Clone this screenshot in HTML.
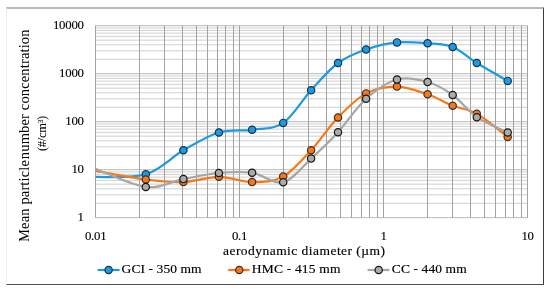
<!DOCTYPE html>
<html><head><meta charset="utf-8"><style>
html,body{margin:0;padding:0;background:#fff;}
body{width:550px;height:291px;position:relative;overflow:hidden;font-family:"Liberation Serif", serif;color:#000;}
.frame{position:absolute;left:6px;top:7px;width:538px;height:278px;box-sizing:border-box;border-top:2px solid #bababa;border-left:1px solid #ececec;border-right:1px solid #3c3c3c;border-bottom:1px solid #505050;}
.t{position:absolute;white-space:nowrap;line-height:1;-webkit-text-stroke:0.15px #000;}
.yl{-webkit-text-stroke:0.12px #000;font-size:12.8px;letter-spacing:-0.25px;text-align:right;width:60px;}
.xl{-webkit-text-stroke:0.12px #000;font-size:12.8px;letter-spacing:-0.25px;text-align:center;width:60px;}
.lg{font-size:13.5px;}
.ytitle{position:absolute;white-space:nowrap;line-height:1;-webkit-text-stroke:0.02px #000;transform-origin:0 0;transform:rotate(-90deg);}
</style></head><body>
<div class="frame"></div>
<svg width="550" height="291" viewBox="0 0 550 291" style="position:absolute;left:0;top:0">
<defs><clipPath id="pa"><rect x="95.60" y="19.70" width="432.00" height="204.00"/></clipPath></defs>
<g stroke="#cfcfcf" stroke-width="1"><line x1="95.60" y1="203.25" x2="527.60" y2="203.25"/><line x1="95.60" y1="194.80" x2="527.60" y2="194.80"/><line x1="95.60" y1="188.80" x2="527.60" y2="188.80"/><line x1="95.60" y1="184.15" x2="527.60" y2="184.15"/><line x1="95.60" y1="180.35" x2="527.60" y2="180.35"/><line x1="95.60" y1="177.14" x2="527.60" y2="177.14"/><line x1="95.60" y1="174.35" x2="527.60" y2="174.35"/><line x1="95.60" y1="171.90" x2="527.60" y2="171.90"/><line x1="95.60" y1="155.25" x2="527.60" y2="155.25"/><line x1="95.60" y1="146.80" x2="527.60" y2="146.80"/><line x1="95.60" y1="140.80" x2="527.60" y2="140.80"/><line x1="95.60" y1="136.15" x2="527.60" y2="136.15"/><line x1="95.60" y1="132.35" x2="527.60" y2="132.35"/><line x1="95.60" y1="129.14" x2="527.60" y2="129.14"/><line x1="95.60" y1="126.35" x2="527.60" y2="126.35"/><line x1="95.60" y1="123.90" x2="527.60" y2="123.90"/><line x1="95.60" y1="107.25" x2="527.60" y2="107.25"/><line x1="95.60" y1="98.80" x2="527.60" y2="98.80"/><line x1="95.60" y1="92.80" x2="527.60" y2="92.80"/><line x1="95.60" y1="88.15" x2="527.60" y2="88.15"/><line x1="95.60" y1="84.35" x2="527.60" y2="84.35"/><line x1="95.60" y1="81.14" x2="527.60" y2="81.14"/><line x1="95.60" y1="78.35" x2="527.60" y2="78.35"/><line x1="95.60" y1="75.90" x2="527.60" y2="75.90"/><line x1="95.60" y1="59.25" x2="527.60" y2="59.25"/><line x1="95.60" y1="50.80" x2="527.60" y2="50.80"/><line x1="95.60" y1="44.80" x2="527.60" y2="44.80"/><line x1="95.60" y1="40.15" x2="527.60" y2="40.15"/><line x1="95.60" y1="36.35" x2="527.60" y2="36.35"/><line x1="95.60" y1="33.14" x2="527.60" y2="33.14"/><line x1="95.60" y1="30.35" x2="527.60" y2="30.35"/><line x1="95.60" y1="27.90" x2="527.60" y2="27.90"/></g>
<g stroke="#b8b8b8" stroke-width="1"><line x1="95.60" y1="217.70" x2="527.60" y2="217.70"/><line x1="95.60" y1="169.70" x2="527.60" y2="169.70"/><line x1="95.60" y1="121.70" x2="527.60" y2="121.70"/><line x1="95.60" y1="73.70" x2="527.60" y2="73.70"/><line x1="95.60" y1="25.70" x2="527.60" y2="25.70"/></g>
<g stroke="#a2a2a2" stroke-width="1"><line x1="95.50" y1="25.70" x2="95.50" y2="217.70"/><line x1="139.50" y1="25.70" x2="139.50" y2="217.70"/><line x1="164.50" y1="25.70" x2="164.50" y2="217.70"/><line x1="182.50" y1="25.70" x2="182.50" y2="217.70"/><line x1="196.50" y1="25.70" x2="196.50" y2="217.70"/><line x1="207.50" y1="25.70" x2="207.50" y2="217.70"/><line x1="217.50" y1="25.70" x2="217.50" y2="217.70"/><line x1="225.50" y1="25.70" x2="225.50" y2="217.70"/><line x1="233.50" y1="25.70" x2="233.50" y2="217.70"/><line x1="239.50" y1="25.70" x2="239.50" y2="217.70"/><line x1="283.50" y1="25.70" x2="283.50" y2="217.70"/><line x1="308.50" y1="25.70" x2="308.50" y2="217.70"/><line x1="326.50" y1="25.70" x2="326.50" y2="217.70"/><line x1="340.50" y1="25.70" x2="340.50" y2="217.70"/><line x1="351.50" y1="25.70" x2="351.50" y2="217.70"/><line x1="361.50" y1="25.70" x2="361.50" y2="217.70"/><line x1="369.50" y1="25.70" x2="369.50" y2="217.70"/><line x1="377.50" y1="25.70" x2="377.50" y2="217.70"/><line x1="383.50" y1="25.70" x2="383.50" y2="217.70"/><line x1="427.50" y1="25.70" x2="427.50" y2="217.70"/><line x1="452.50" y1="25.70" x2="452.50" y2="217.70"/><line x1="470.50" y1="25.70" x2="470.50" y2="217.70"/><line x1="484.50" y1="25.70" x2="484.50" y2="217.70"/><line x1="495.50" y1="25.70" x2="495.50" y2="217.70"/><line x1="505.50" y1="25.70" x2="505.50" y2="217.70"/><line x1="513.50" y1="25.70" x2="513.50" y2="217.70"/><line x1="521.50" y1="25.70" x2="521.50" y2="217.70"/><line x1="527.50" y1="25.70" x2="527.50" y2="217.70"/></g>
<path d="M94.30,177.00 C102.88,176.55 130.95,178.75 145.80,174.30 C160.65,169.85 171.22,157.27 183.40,150.30 C195.58,143.33 207.45,135.92 218.90,132.50 C230.35,129.08 241.38,131.40 252.10,129.80 C262.82,128.20 273.37,129.50 283.20,122.90 C293.03,116.30 301.97,100.18 311.10,90.20 C320.23,80.22 328.83,69.78 338.00,63.00 C347.17,56.22 356.27,52.93 366.10,49.50 C375.93,46.07 386.75,43.43 397.00,42.40 C407.25,41.37 418.32,42.53 427.60,43.30 C436.88,44.07 444.50,43.72 452.70,47.00 C460.90,50.28 467.63,57.35 476.80,63.00 C485.97,68.65 502.55,77.92 507.70,80.90" fill="none" stroke="#1d9be0" stroke-width="2.2" clip-path="url(#pa)"/>
<circle cx="145.80" cy="174.30" r="3.65" fill="#1d9be0" stroke="#17344a" stroke-width="1.2"/>
<circle cx="183.40" cy="150.30" r="3.65" fill="#1d9be0" stroke="#17344a" stroke-width="1.2"/>
<circle cx="218.90" cy="132.50" r="3.65" fill="#1d9be0" stroke="#17344a" stroke-width="1.2"/>
<circle cx="252.10" cy="129.80" r="3.65" fill="#1d9be0" stroke="#17344a" stroke-width="1.2"/>
<circle cx="283.20" cy="122.90" r="3.65" fill="#1d9be0" stroke="#17344a" stroke-width="1.2"/>
<circle cx="311.10" cy="90.20" r="3.65" fill="#1d9be0" stroke="#17344a" stroke-width="1.2"/>
<circle cx="338.00" cy="63.00" r="3.65" fill="#1d9be0" stroke="#17344a" stroke-width="1.2"/>
<circle cx="366.10" cy="49.50" r="3.65" fill="#1d9be0" stroke="#17344a" stroke-width="1.2"/>
<circle cx="397.00" cy="42.40" r="3.65" fill="#1d9be0" stroke="#17344a" stroke-width="1.2"/>
<circle cx="427.60" cy="43.30" r="3.65" fill="#1d9be0" stroke="#17344a" stroke-width="1.2"/>
<circle cx="452.70" cy="47.00" r="3.65" fill="#1d9be0" stroke="#17344a" stroke-width="1.2"/>
<circle cx="476.80" cy="63.00" r="3.65" fill="#1d9be0" stroke="#17344a" stroke-width="1.2"/>
<circle cx="507.70" cy="80.90" r="3.65" fill="#1d9be0" stroke="#17344a" stroke-width="1.2"/>
<path d="M94.30,170.80 C102.88,172.25 130.95,177.63 145.80,179.50 C160.65,181.37 171.22,182.45 183.40,182.00 C195.58,181.55 207.45,176.78 218.90,176.80 C230.35,176.82 241.38,182.13 252.10,182.10 C262.82,182.07 273.37,181.92 283.20,176.60 C293.03,171.28 301.97,160.05 311.10,150.20 C320.23,140.35 328.83,126.97 338.00,117.50 C347.17,108.03 356.27,98.55 366.10,93.40 C375.93,88.25 386.75,86.45 397.00,86.60 C407.25,86.75 418.32,91.10 427.60,94.30 C436.88,97.50 444.50,102.55 452.70,105.80 C460.90,109.05 467.63,108.60 476.80,113.80 C485.97,119.00 502.55,133.13 507.70,137.00" fill="none" stroke="#f97816" stroke-width="2.2" clip-path="url(#pa)"/>
<circle cx="145.80" cy="179.50" r="3.65" fill="#f97816" stroke="#3a3030" stroke-width="1.2"/>
<circle cx="183.40" cy="182.00" r="3.65" fill="#f97816" stroke="#3a3030" stroke-width="1.2"/>
<circle cx="218.90" cy="176.80" r="3.65" fill="#f97816" stroke="#3a3030" stroke-width="1.2"/>
<circle cx="252.10" cy="182.10" r="3.65" fill="#f97816" stroke="#3a3030" stroke-width="1.2"/>
<circle cx="283.20" cy="176.60" r="3.65" fill="#f97816" stroke="#3a3030" stroke-width="1.2"/>
<circle cx="311.10" cy="150.20" r="3.65" fill="#f97816" stroke="#3a3030" stroke-width="1.2"/>
<circle cx="338.00" cy="117.50" r="3.65" fill="#f97816" stroke="#3a3030" stroke-width="1.2"/>
<circle cx="366.10" cy="93.40" r="3.65" fill="#f97816" stroke="#3a3030" stroke-width="1.2"/>
<circle cx="397.00" cy="86.60" r="3.65" fill="#f97816" stroke="#3a3030" stroke-width="1.2"/>
<circle cx="427.60" cy="94.30" r="3.65" fill="#f97816" stroke="#3a3030" stroke-width="1.2"/>
<circle cx="452.70" cy="105.80" r="3.65" fill="#f97816" stroke="#3a3030" stroke-width="1.2"/>
<circle cx="476.80" cy="113.80" r="3.65" fill="#f97816" stroke="#3a3030" stroke-width="1.2"/>
<circle cx="507.70" cy="137.00" r="3.65" fill="#f97816" stroke="#3a3030" stroke-width="1.2"/>
<path d="M94.30,168.30 C102.88,171.42 130.95,185.20 145.80,187.00 C160.65,188.80 171.22,181.43 183.40,179.10 C195.58,176.77 207.45,174.05 218.90,173.00 C230.35,171.95 241.38,171.27 252.10,172.80 C262.82,174.33 273.37,184.57 283.20,182.20 C293.03,179.83 301.97,166.93 311.10,158.60 C320.23,150.27 328.83,142.18 338.00,132.20 C347.17,122.22 356.27,107.48 366.10,98.70 C375.93,89.92 386.75,82.28 397.00,79.50 C407.25,76.72 418.32,79.42 427.60,82.00 C436.88,84.58 444.50,89.13 452.70,95.00 C460.90,100.87 467.63,110.95 476.80,117.20 C485.97,123.45 502.55,129.95 507.70,132.50" fill="none" stroke="#a6a6a6" stroke-width="2.2" clip-path="url(#pa)"/>
<circle cx="145.80" cy="187.00" r="3.65" fill="#ababab" stroke="#151515" stroke-width="1.2"/>
<circle cx="183.40" cy="179.10" r="3.65" fill="#ababab" stroke="#151515" stroke-width="1.2"/>
<circle cx="218.90" cy="173.00" r="3.65" fill="#ababab" stroke="#151515" stroke-width="1.2"/>
<circle cx="252.10" cy="172.80" r="3.65" fill="#ababab" stroke="#151515" stroke-width="1.2"/>
<circle cx="283.20" cy="182.20" r="3.65" fill="#ababab" stroke="#151515" stroke-width="1.2"/>
<circle cx="311.10" cy="158.60" r="3.65" fill="#ababab" stroke="#151515" stroke-width="1.2"/>
<circle cx="338.00" cy="132.20" r="3.65" fill="#ababab" stroke="#151515" stroke-width="1.2"/>
<circle cx="366.10" cy="98.70" r="3.65" fill="#ababab" stroke="#151515" stroke-width="1.2"/>
<circle cx="397.00" cy="79.50" r="3.65" fill="#ababab" stroke="#151515" stroke-width="1.2"/>
<circle cx="427.60" cy="82.00" r="3.65" fill="#ababab" stroke="#151515" stroke-width="1.2"/>
<circle cx="452.70" cy="95.00" r="3.65" fill="#ababab" stroke="#151515" stroke-width="1.2"/>
<circle cx="476.80" cy="117.20" r="3.65" fill="#ababab" stroke="#151515" stroke-width="1.2"/>
<circle cx="507.70" cy="132.50" r="3.65" fill="#ababab" stroke="#151515" stroke-width="1.2"/>
<line x1="97.6" y1="270" x2="119.6" y2="270" stroke="#1d9be0" stroke-width="2.2"/><circle cx="108.6" cy="270" r="3.65" fill="#1d9be0" stroke="#17344a" stroke-width="1.2"/>
<line x1="228.2" y1="270" x2="249.5" y2="270" stroke="#f97816" stroke-width="2.2"/><circle cx="239.3" cy="270" r="3.65" fill="#f97816" stroke="#3a3030" stroke-width="1.2"/>
<line x1="367.6" y1="270" x2="389.5" y2="270" stroke="#a6a6a6" stroke-width="2.2"/><circle cx="378.7" cy="270" r="3.65" fill="#ababab" stroke="#151515" stroke-width="1.2"/>
</svg>
<div class="t yl" style="left:23.7px;top:19.2px">10000</div>
<div class="t yl" style="left:23.7px;top:67.2px">1000</div>
<div class="t yl" style="left:23.7px;top:115.2px">100</div>
<div class="t yl" style="left:23.7px;top:163.2px">10</div>
<div class="t yl" style="left:23.7px;top:211.2px">1</div>
<div class="t xl" style="left:65.6px;top:230.0px">0.01</div>
<div class="t xl" style="left:209.6px;top:230.0px">0.1</div>
<div class="t xl" style="left:353.6px;top:230.0px">1</div>
<div class="t xl" style="left:497.6px;top:230.0px">10</div>
<div class="t" style="left:223px;top:244px;font-size:13.5px;letter-spacing:0.46px">aerodynamic diameter (µm)</div>
<div class="t" style="left:121.6px;top:262px;font-size:13.5px;letter-spacing:0.08px">GCI - 350 mm</div>
<div class="t" style="left:251.8px;top:262px;font-size:13.5px;letter-spacing:0.18px">HMC - 415 mm</div>
<div class="t" style="left:391.8px;top:262px;font-size:13.5px;letter-spacing:0.1px">CC - 440 mm</div>
<div class="ytitle" style="left:16.5px;top:242px;font-size:14.5px;letter-spacing:0.15px">Mean particle<span style="word-spacing:-3px"> </span>number concentration</div>
<div class="ytitle" style="left:36px;top:151px;font-size:12.5px;letter-spacing:-0.3px">(#/cm³)</div>
</body></html>
